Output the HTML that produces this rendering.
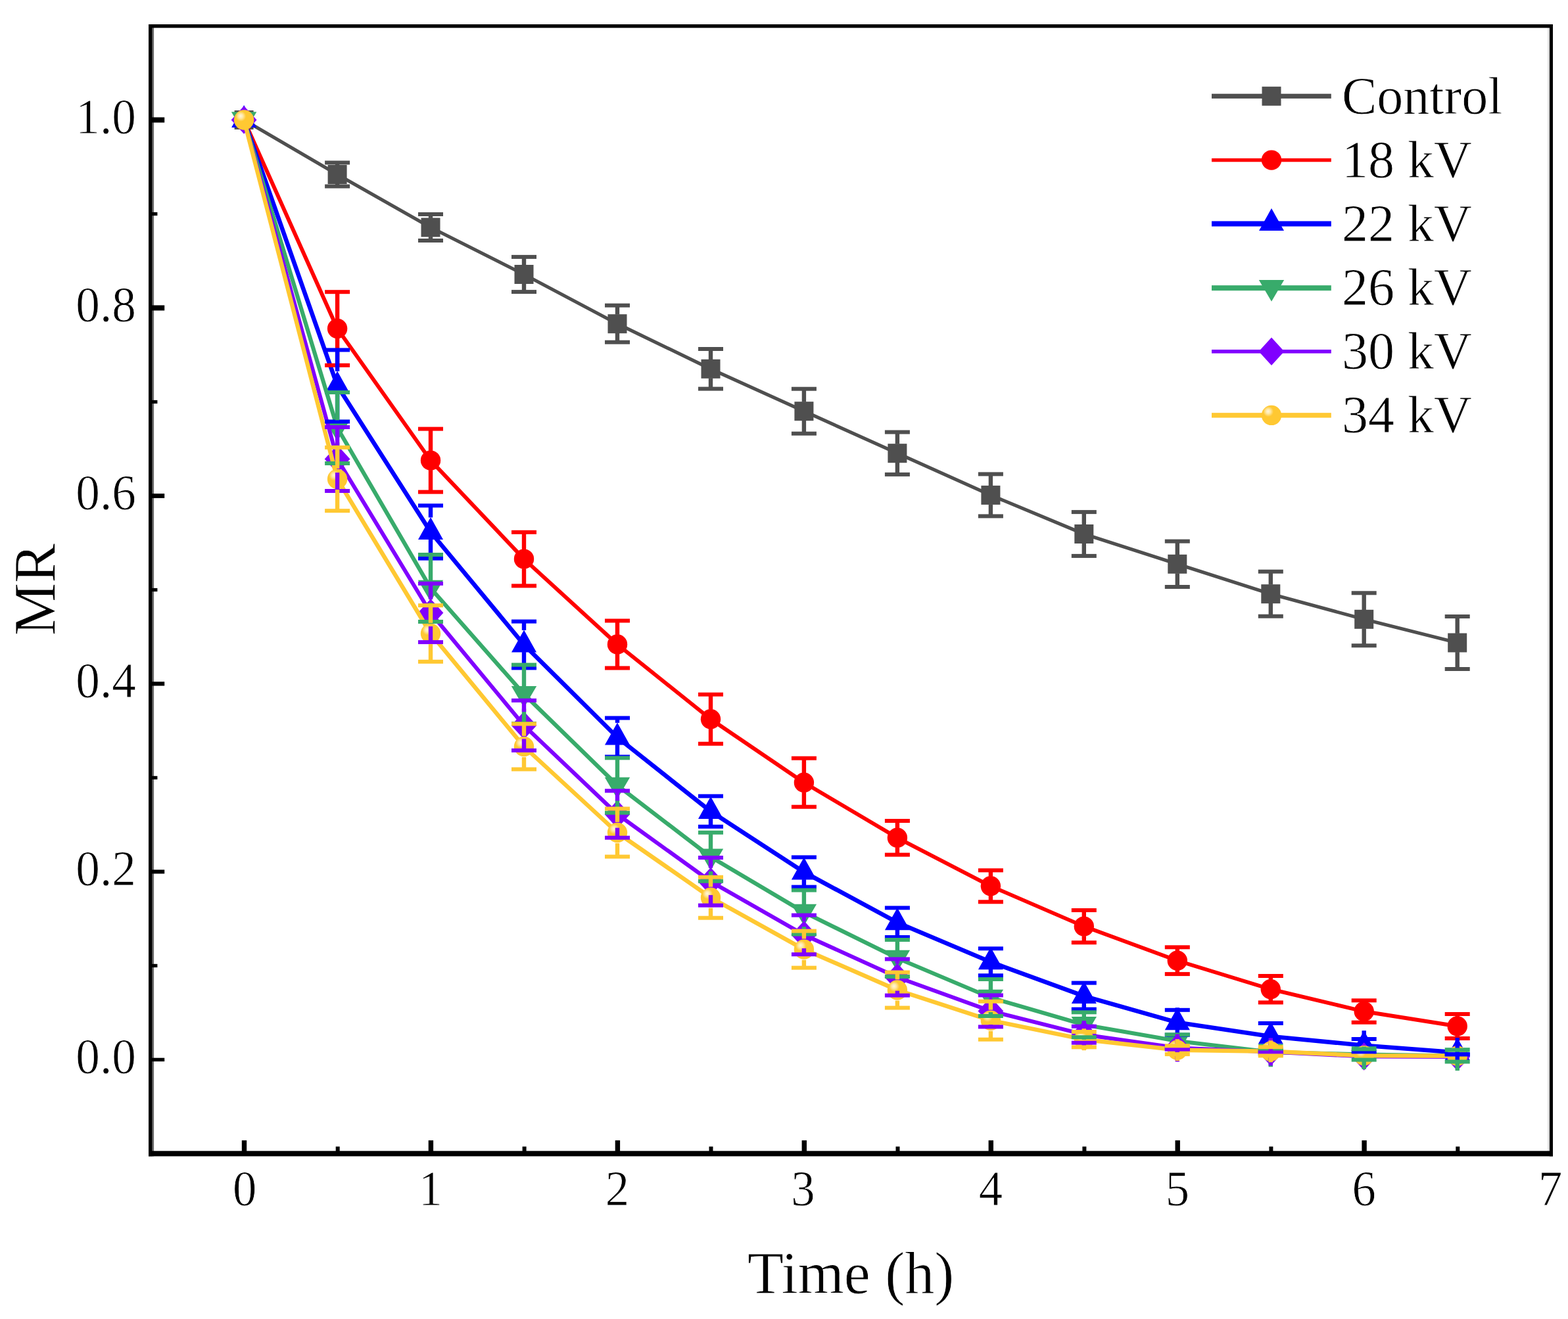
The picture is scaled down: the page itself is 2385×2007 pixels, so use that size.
<!DOCTYPE html>
<html lang="en">
<head>
<meta charset="utf-8">
<title>MR vs Time (h)</title>
<style>
html,body{margin:0;padding:0;background:#fff;}
body{width:2385px;height:2007px;overflow:hidden;}
svg{display:block;filter:blur(0.7px);}
text{stroke:#fff;stroke-width:0.8px;paint-order:fill stroke;font-family:"Liberation Serif","Times New Roman",Times,serif;fill:#000;}
.tk{font-size:75.5px;}
.lg{font-size:80px;}
.ax{font-size:90px;}
</style>
</head>
<body>
<svg width="2385" height="2007" viewBox="0 0 2385 2007">
<defs>
<radialGradient id="sph" cx="0.36" cy="0.34" r="0.62" fx="0.33" fy="0.30">
<stop offset="0" stop-color="#fff6dc"/>
<stop offset="0.18" stop-color="#ffe9a8"/>
<stop offset="0.42" stop-color="#ffc832"/>
<stop offset="1" stop-color="#ffc832"/>
</radialGradient>
</defs>
<rect x="0" y="0" width="2385" height="2007" fill="#fff"/>
<g>
<polyline points="371.1,182.5 513.1,265.5 655,346 797,417.5 939,492.7 1081,561.3 1222.9,625.7 1364.9,689.7 1506.9,753.4 1648.8,812.5 1790.8,858.3 1932.8,903.7 2074.7,942.3 2216.7,978" fill="none" stroke="#4f4f4f" stroke-width="5.2" stroke-linejoin="round"/>
<rect x="356.6" y="168" width="29" height="29" fill="#4f4f4f"/><rect x="498.6" y="251" width="29" height="29" fill="#4f4f4f"/><rect x="640.5" y="331.5" width="29" height="29" fill="#4f4f4f"/><rect x="782.5" y="403" width="29" height="29" fill="#4f4f4f"/><rect x="924.5" y="478.2" width="29" height="29" fill="#4f4f4f"/><rect x="1066.5" y="546.8" width="29" height="29" fill="#4f4f4f"/><rect x="1208.4" y="611.2" width="29" height="29" fill="#4f4f4f"/><rect x="1350.4" y="675.2" width="29" height="29" fill="#4f4f4f"/><rect x="1492.4" y="738.9" width="29" height="29" fill="#4f4f4f"/><rect x="1634.3" y="798" width="29" height="29" fill="#4f4f4f"/><rect x="1776.3" y="843.8" width="29" height="29" fill="#4f4f4f"/><rect x="1918.3" y="889.2" width="29" height="29" fill="#4f4f4f"/><rect x="2060.2" y="927.8" width="29" height="29" fill="#4f4f4f"/><rect x="2202.2" y="963.5" width="29" height="29" fill="#4f4f4f"/>
</g>
<g>
<polyline points="371.1,182.5 513.1,500 655,700.6 797,850.6 939,980.5 1081,1094.2 1222.9,1190.7 1364.9,1274.8 1506.9,1348.3 1648.8,1409.6 1790.8,1461.7 1932.8,1505.2 2074.7,1539 2216.7,1561.5" fill="none" stroke="#ff0000" stroke-width="5.9" stroke-linejoin="round"/>
<circle cx="371.1" cy="182.5" r="15.2" fill="#ff0000"/><circle cx="513.1" cy="500" r="15.2" fill="#ff0000"/><circle cx="655" cy="700.6" r="15.2" fill="#ff0000"/><circle cx="797" cy="850.6" r="15.2" fill="#ff0000"/><circle cx="939" cy="980.5" r="15.2" fill="#ff0000"/><circle cx="1081" cy="1094.2" r="15.2" fill="#ff0000"/><circle cx="1222.9" cy="1190.7" r="15.2" fill="#ff0000"/><circle cx="1364.9" cy="1274.8" r="15.2" fill="#ff0000"/><circle cx="1506.9" cy="1348.3" r="15.2" fill="#ff0000"/><circle cx="1648.8" cy="1409.6" r="15.2" fill="#ff0000"/><circle cx="1790.8" cy="1461.7" r="15.2" fill="#ff0000"/><circle cx="1932.8" cy="1505.2" r="15.2" fill="#ff0000"/><circle cx="2074.7" cy="1539" r="15.2" fill="#ff0000"/><circle cx="2216.7" cy="1561.5" r="15.2" fill="#ff0000"/>
</g>
<g>
<polyline points="371.1,182.5 513.1,587 655,809.5 797,981 939,1122 1081,1234.6 1222.9,1327 1364.9,1403.7 1506.9,1463.8 1648.8,1515.6 1790.8,1555.8 1932.8,1577 2074.7,1590.7 2216.7,1601.5" fill="none" stroke="#0000ff" stroke-width="6.6" stroke-linejoin="round"/>
<path d="M371.1 160L390.1 194H352.1Z" fill="#0000ff"/><path d="M513.1 564.5L532.1 598.5H494.1Z" fill="#0000ff"/><path d="M655 787L674 821H636Z" fill="#0000ff"/><path d="M797 958.5L816 992.5H778Z" fill="#0000ff"/><path d="M939 1099.5L958 1133.5H920Z" fill="#0000ff"/><path d="M1081 1212.1L1100 1246.1H1062Z" fill="#0000ff"/><path d="M1222.9 1304.5L1241.9 1338.5H1203.9Z" fill="#0000ff"/><path d="M1364.9 1381.2L1383.9 1415.2H1345.9Z" fill="#0000ff"/><path d="M1506.9 1441.3L1525.9 1475.3H1487.9Z" fill="#0000ff"/><path d="M1648.8 1493.1L1667.8 1527.1H1629.8Z" fill="#0000ff"/><path d="M1790.8 1533.3L1809.8 1567.3H1771.8Z" fill="#0000ff"/><path d="M1932.8 1554.5L1951.8 1588.5H1913.8Z" fill="#0000ff"/><path d="M2074.7 1568.2L2093.7 1602.2H2055.7Z" fill="#0000ff"/><path d="M2216.7 1579L2235.7 1613H2197.7Z" fill="#0000ff"/>
</g>
<g>
<polyline points="371.1,182.5 513.1,651 655,895 797,1056.3 939,1195 1081,1303.8 1222.9,1388 1364.9,1458 1506.9,1518 1648.8,1559.3 1790.8,1584 1932.8,1600.8 2074.7,1604.5 2216.7,1606.6" fill="none" stroke="#38ab6b" stroke-width="6.2" stroke-linejoin="round"/>
<path d="M371.1 203L390.3 170.2H351.9Z" fill="#38ab6b"/><path d="M513.1 671.5L532.3 638.7H493.9Z" fill="#38ab6b"/><path d="M655 915.5L674.2 882.7H635.8Z" fill="#38ab6b"/><path d="M797 1076.8L816.2 1044H777.8Z" fill="#38ab6b"/><path d="M939 1215.5L958.2 1182.7H919.8Z" fill="#38ab6b"/><path d="M1081 1324.3L1100.2 1291.5H1061.8Z" fill="#38ab6b"/><path d="M1222.9 1408.5L1242.1 1375.7H1203.7Z" fill="#38ab6b"/><path d="M1364.9 1478.5L1384.1 1445.7H1345.7Z" fill="#38ab6b"/><path d="M1506.9 1538.5L1526.1 1505.7H1487.7Z" fill="#38ab6b"/><path d="M1648.8 1579.8L1668 1547H1629.6Z" fill="#38ab6b"/><path d="M1790.8 1604.5L1810 1571.7H1771.6Z" fill="#38ab6b"/><path d="M1932.8 1621.3L1952 1588.5H1913.6Z" fill="#38ab6b"/><path d="M2074.7 1625L2093.9 1592.2H2055.5Z" fill="#38ab6b"/><path d="M2216.7 1627.1L2235.9 1594.3H2197.5Z" fill="#38ab6b"/>
</g>
<g>
<polyline points="371.1,182.5 513.1,698.5 655,932.5 797,1103.8 939,1239 1081,1341.3 1222.9,1422.4 1364.9,1487 1506.9,1538.4 1648.8,1574.2 1790.8,1594.5 1932.8,1600.5 2074.7,1607.5 2216.7,1608" fill="none" stroke="#8000ff" stroke-width="6.0" stroke-linejoin="round"/>
<path d="M371.1 161.2L390.5 182.5L371.1 203.8L351.7 182.5Z" fill="#8000ff"/><path d="M513.1 677.2L532.5 698.5L513.1 719.8L493.7 698.5Z" fill="#8000ff"/><path d="M655 911.2L674.4 932.5L655 953.8L635.6 932.5Z" fill="#8000ff"/><path d="M797 1082.5L816.4 1103.8L797 1125.1L777.6 1103.8Z" fill="#8000ff"/><path d="M939 1217.7L958.4 1239L939 1260.3L919.6 1239Z" fill="#8000ff"/><path d="M1081 1320L1100.4 1341.3L1081 1362.6L1061.5 1341.3Z" fill="#8000ff"/><path d="M1222.9 1401.1L1242.3 1422.4L1222.9 1443.7L1203.5 1422.4Z" fill="#8000ff"/><path d="M1364.9 1465.7L1384.3 1487L1364.9 1508.3L1345.5 1487Z" fill="#8000ff"/><path d="M1506.9 1517.1L1526.3 1538.4L1506.9 1559.7L1487.5 1538.4Z" fill="#8000ff"/><path d="M1648.8 1552.9L1668.2 1574.2L1648.8 1595.5L1629.4 1574.2Z" fill="#8000ff"/><path d="M1790.8 1573.2L1810.2 1594.5L1790.8 1615.8L1771.4 1594.5Z" fill="#8000ff"/><path d="M1932.8 1579.2L1952.2 1600.5L1932.8 1621.8L1913.4 1600.5Z" fill="#8000ff"/><path d="M2074.7 1586.2L2094.1 1607.5L2074.7 1628.8L2055.3 1607.5Z" fill="#8000ff"/><path d="M2216.7 1586.7L2236.1 1608L2216.7 1629.3L2197.3 1608Z" fill="#8000ff"/>
</g>
<g>
<polyline points="371.1,182.5 513.1,729 655,964 797,1136 939,1267 1081,1365.7 1222.9,1444.6 1364.9,1506.5 1506.9,1552.7 1648.8,1581.7 1790.8,1597.7 1932.8,1599.8 2074.7,1606.3 2216.7,1606.8" fill="none" stroke="#ffc832" stroke-width="6.4" stroke-linejoin="round"/>
<circle cx="371.1" cy="182.5" r="15.2" fill="url(#sph)"/><circle cx="513.1" cy="729" r="15.2" fill="url(#sph)"/><circle cx="655" cy="964" r="15.2" fill="url(#sph)"/><circle cx="797" cy="1136" r="15.2" fill="url(#sph)"/><circle cx="939" cy="1267" r="15.2" fill="url(#sph)"/><circle cx="1081" cy="1365.7" r="15.2" fill="url(#sph)"/><circle cx="1222.9" cy="1444.6" r="15.2" fill="url(#sph)"/><circle cx="1364.9" cy="1506.5" r="15.2" fill="url(#sph)"/><circle cx="1506.9" cy="1552.7" r="15.2" fill="url(#sph)"/><circle cx="1648.8" cy="1581.7" r="15.2" fill="url(#sph)"/><circle cx="1790.8" cy="1597.7" r="15.2" fill="url(#sph)"/><circle cx="1932.8" cy="1599.8" r="15.2" fill="url(#sph)"/><circle cx="2074.7" cy="1606.3" r="15.2" fill="url(#sph)"/><circle cx="2216.7" cy="1606.8" r="15.2" fill="url(#sph)"/>
</g>
<g><rect x="509.9" y="247.5" width="6.4" height="3.9" fill="#4f4f4f"/><rect x="509.9" y="279.6" width="6.4" height="3.9" fill="#4f4f4f"/><rect x="494.1" y="244.5" width="38" height="6" fill="#4f4f4f"/><rect x="494.1" y="280.5" width="38" height="6" fill="#4f4f4f"/><rect x="651.8" y="326" width="6.4" height="5.9" fill="#4f4f4f"/><rect x="651.8" y="360.1" width="6.4" height="5.9" fill="#4f4f4f"/><rect x="636" y="323" width="38" height="6" fill="#4f4f4f"/><rect x="636" y="363" width="38" height="6" fill="#4f4f4f"/><rect x="793.8" y="390.9" width="6.4" height="12.5" fill="#4f4f4f"/><rect x="793.8" y="431.6" width="6.4" height="12.5" fill="#4f4f4f"/><rect x="778" y="387.9" width="38" height="6" fill="#4f4f4f"/><rect x="778" y="441.1" width="38" height="6" fill="#4f4f4f"/><rect x="935.8" y="464.7" width="6.4" height="13.9" fill="#4f4f4f"/><rect x="935.8" y="506.8" width="6.4" height="13.9" fill="#4f4f4f"/><rect x="920" y="461.7" width="38" height="6" fill="#4f4f4f"/><rect x="920" y="517.7" width="38" height="6" fill="#4f4f4f"/><rect x="1077.8" y="531" width="6.4" height="16.2" fill="#4f4f4f"/><rect x="1077.8" y="575.4" width="6.4" height="16.2" fill="#4f4f4f"/><rect x="1062" y="528" width="38" height="6" fill="#4f4f4f"/><rect x="1062" y="588.6" width="38" height="6" fill="#4f4f4f"/><rect x="1219.7" y="591.7" width="6.4" height="19.9" fill="#4f4f4f"/><rect x="1219.7" y="639.8" width="6.4" height="19.9" fill="#4f4f4f"/><rect x="1203.9" y="588.7" width="38" height="6" fill="#4f4f4f"/><rect x="1203.9" y="656.7" width="38" height="6" fill="#4f4f4f"/><rect x="1361.7" y="657.5" width="6.4" height="18.1" fill="#4f4f4f"/><rect x="1361.7" y="703.8" width="6.4" height="18.1" fill="#4f4f4f"/><rect x="1345.9" y="654.5" width="38" height="6" fill="#4f4f4f"/><rect x="1345.9" y="718.9" width="38" height="6" fill="#4f4f4f"/><rect x="1503.7" y="721.4" width="6.4" height="17.9" fill="#4f4f4f"/><rect x="1503.7" y="767.5" width="6.4" height="17.9" fill="#4f4f4f"/><rect x="1487.9" y="718.4" width="38" height="6" fill="#4f4f4f"/><rect x="1487.9" y="782.4" width="38" height="6" fill="#4f4f4f"/><rect x="1645.6" y="779.1" width="6.4" height="19.3" fill="#4f4f4f"/><rect x="1645.6" y="826.6" width="6.4" height="19.3" fill="#4f4f4f"/><rect x="1629.8" y="776.1" width="38" height="6" fill="#4f4f4f"/><rect x="1629.8" y="842.9" width="38" height="6" fill="#4f4f4f"/><rect x="1787.6" y="823.6" width="6.4" height="20.6" fill="#4f4f4f"/><rect x="1787.6" y="872.4" width="6.4" height="20.6" fill="#4f4f4f"/><rect x="1771.8" y="820.6" width="38" height="6" fill="#4f4f4f"/><rect x="1771.8" y="890" width="38" height="6" fill="#4f4f4f"/><rect x="1929.6" y="869.7" width="6.4" height="19.9" fill="#4f4f4f"/><rect x="1929.6" y="917.8" width="6.4" height="19.9" fill="#4f4f4f"/><rect x="1913.8" y="866.7" width="38" height="6" fill="#4f4f4f"/><rect x="1913.8" y="934.7" width="38" height="6" fill="#4f4f4f"/><rect x="2071.5" y="902.3" width="6.4" height="25.9" fill="#4f4f4f"/><rect x="2071.5" y="956.4" width="6.4" height="25.9" fill="#4f4f4f"/><rect x="2055.7" y="899.3" width="38" height="6" fill="#4f4f4f"/><rect x="2055.7" y="979.3" width="38" height="6" fill="#4f4f4f"/><rect x="2213.5" y="938" width="6.4" height="25.9" fill="#4f4f4f"/><rect x="2213.5" y="992.1" width="6.4" height="25.9" fill="#4f4f4f"/><rect x="2197.7" y="935" width="38" height="6" fill="#4f4f4f"/><rect x="2197.7" y="1015" width="38" height="6" fill="#4f4f4f"/></g>
<g><rect x="509.9" y="444.2" width="6.4" height="41.2" fill="#ff0000"/><rect x="509.9" y="514.6" width="6.4" height="41.2" fill="#ff0000"/><rect x="494.1" y="441.2" width="38" height="6" fill="#ff0000"/><rect x="494.1" y="552.8" width="38" height="6" fill="#ff0000"/><rect x="651.8" y="652.6" width="6.4" height="33.4" fill="#ff0000"/><rect x="651.8" y="715.2" width="6.4" height="33.4" fill="#ff0000"/><rect x="636" y="649.6" width="38" height="6" fill="#ff0000"/><rect x="636" y="745.6" width="38" height="6" fill="#ff0000"/><rect x="793.8" y="809.8" width="6.4" height="26.2" fill="#ff0000"/><rect x="793.8" y="865.2" width="6.4" height="26.2" fill="#ff0000"/><rect x="778" y="806.8" width="38" height="6" fill="#ff0000"/><rect x="778" y="888.4" width="38" height="6" fill="#ff0000"/><rect x="935.8" y="944.5" width="6.4" height="21.4" fill="#ff0000"/><rect x="935.8" y="995.1" width="6.4" height="21.4" fill="#ff0000"/><rect x="920" y="941.5" width="38" height="6" fill="#ff0000"/><rect x="920" y="1013.5" width="38" height="6" fill="#ff0000"/><rect x="1077.8" y="1056.7" width="6.4" height="22.9" fill="#ff0000"/><rect x="1077.8" y="1108.8" width="6.4" height="22.9" fill="#ff0000"/><rect x="1062" y="1053.7" width="38" height="6" fill="#ff0000"/><rect x="1062" y="1128.7" width="38" height="6" fill="#ff0000"/><rect x="1219.7" y="1153.7" width="6.4" height="22.4" fill="#ff0000"/><rect x="1219.7" y="1205.3" width="6.4" height="22.4" fill="#ff0000"/><rect x="1203.9" y="1150.7" width="38" height="6" fill="#ff0000"/><rect x="1203.9" y="1224.7" width="38" height="6" fill="#ff0000"/><rect x="1361.7" y="1249" width="6.4" height="11.2" fill="#ff0000"/><rect x="1361.7" y="1289.4" width="6.4" height="11.2" fill="#ff0000"/><rect x="1345.9" y="1246" width="38" height="6" fill="#ff0000"/><rect x="1345.9" y="1297.6" width="38" height="6" fill="#ff0000"/><rect x="1503.7" y="1324.3" width="6.4" height="9.4" fill="#ff0000"/><rect x="1503.7" y="1362.9" width="6.4" height="9.4" fill="#ff0000"/><rect x="1487.9" y="1321.3" width="38" height="6" fill="#ff0000"/><rect x="1487.9" y="1369.3" width="38" height="6" fill="#ff0000"/><rect x="1645.6" y="1385" width="6.4" height="10" fill="#ff0000"/><rect x="1645.6" y="1424.2" width="6.4" height="10" fill="#ff0000"/><rect x="1629.8" y="1382" width="38" height="6" fill="#ff0000"/><rect x="1629.8" y="1431.2" width="38" height="6" fill="#ff0000"/><rect x="1787.6" y="1441.3" width="6.4" height="5.8" fill="#ff0000"/><rect x="1787.6" y="1476.3" width="6.4" height="5.8" fill="#ff0000"/><rect x="1771.8" y="1438.3" width="38" height="6" fill="#ff0000"/><rect x="1771.8" y="1479.1" width="38" height="6" fill="#ff0000"/><rect x="1929.6" y="1485" width="6.4" height="5.6" fill="#ff0000"/><rect x="1929.6" y="1519.8" width="6.4" height="5.6" fill="#ff0000"/><rect x="1913.8" y="1482" width="38" height="6" fill="#ff0000"/><rect x="1913.8" y="1522.4" width="38" height="6" fill="#ff0000"/><rect x="2071.5" y="1522.3" width="6.4" height="2.1" fill="#ff0000"/><rect x="2071.5" y="1553.6" width="6.4" height="2.1" fill="#ff0000"/><rect x="2055.7" y="1519.3" width="38" height="6" fill="#ff0000"/><rect x="2055.7" y="1552.7" width="38" height="6" fill="#ff0000"/><rect x="2213.5" y="1543" width="6.4" height="3.9" fill="#ff0000"/><rect x="2213.5" y="1576.1" width="6.4" height="3.9" fill="#ff0000"/><rect x="2197.7" y="1540" width="38" height="6" fill="#ff0000"/><rect x="2197.7" y="1577" width="38" height="6" fill="#ff0000"/></g>
<g><rect x="509.9" y="532.5" width="6.4" height="32.4" fill="#0000ff"/><rect x="509.9" y="598.1" width="6.4" height="43.4" fill="#0000ff"/><rect x="494.1" y="529.5" width="38" height="6" fill="#0000ff"/><rect x="494.1" y="638.5" width="38" height="6" fill="#0000ff"/><rect x="651.8" y="769.3" width="6.4" height="18.1" fill="#0000ff"/><rect x="651.8" y="820.6" width="6.4" height="29.1" fill="#0000ff"/><rect x="636" y="766.3" width="38" height="6" fill="#0000ff"/><rect x="636" y="846.7" width="38" height="6" fill="#0000ff"/><rect x="793.8" y="945.6" width="6.4" height="13.3" fill="#0000ff"/><rect x="793.8" y="992.1" width="6.4" height="24.3" fill="#0000ff"/><rect x="778" y="942.6" width="38" height="6" fill="#0000ff"/><rect x="778" y="1013.4" width="38" height="6" fill="#0000ff"/><rect x="935.8" y="1092.5" width="6.4" height="7.4" fill="#0000ff"/><rect x="935.8" y="1133.1" width="6.4" height="18.4" fill="#0000ff"/><rect x="920" y="1089.5" width="38" height="6" fill="#0000ff"/><rect x="920" y="1148.5" width="38" height="6" fill="#0000ff"/><rect x="1077.8" y="1211.4" width="6.4" height="1.1" fill="#0000ff"/><rect x="1077.8" y="1245.7" width="6.4" height="12.1" fill="#0000ff"/><rect x="1062" y="1208.4" width="38" height="6" fill="#0000ff"/><rect x="1062" y="1254.8" width="38" height="6" fill="#0000ff"/><rect x="1219.7" y="1338.1" width="6.4" height="11.5" fill="#0000ff"/><rect x="1203.9" y="1301.4" width="38" height="6" fill="#0000ff"/><rect x="1203.9" y="1346.6" width="38" height="6" fill="#0000ff"/><rect x="1361.7" y="1414.8" width="6.4" height="11.2" fill="#0000ff"/><rect x="1345.9" y="1378.4" width="38" height="6" fill="#0000ff"/><rect x="1345.9" y="1423" width="38" height="6" fill="#0000ff"/><rect x="1503.7" y="1441.3" width="6.4" height="2.4" fill="#0000ff"/><rect x="1503.7" y="1474.9" width="6.4" height="9.4" fill="#0000ff"/><rect x="1487.9" y="1440.3" width="38" height="6" fill="#0000ff"/><rect x="1487.9" y="1481.3" width="38" height="6" fill="#0000ff"/><rect x="1645.6" y="1493.1" width="6.4" height="2.9" fill="#0000ff"/><rect x="1645.6" y="1526.7" width="6.4" height="8.9" fill="#0000ff"/><rect x="1629.8" y="1492.6" width="38" height="6" fill="#0000ff"/><rect x="1629.8" y="1532.6" width="38" height="6" fill="#0000ff"/><rect x="1787.6" y="1533.3" width="6.4" height="3.9" fill="#0000ff"/><rect x="1787.6" y="1566.9" width="6.4" height="7.9" fill="#0000ff"/><rect x="1771.8" y="1533.8" width="38" height="6" fill="#0000ff"/><rect x="1771.8" y="1571.8" width="38" height="6" fill="#0000ff"/><rect x="1929.6" y="1554.5" width="6.4" height="2.9" fill="#0000ff"/><rect x="1929.6" y="1588.1" width="6.4" height="8.9" fill="#0000ff"/><rect x="1913.8" y="1554" width="38" height="6" fill="#0000ff"/><rect x="1913.8" y="1594" width="38" height="6" fill="#0000ff"/><rect x="2071.5" y="1568.2" width="6.4" height="13.2" fill="#0000ff"/><rect x="2071.5" y="1600" width="6.4" height="2.2" fill="#0000ff"/><rect x="2055.7" y="1578" width="38" height="6" fill="#0000ff"/><rect x="2055.7" y="1597.4" width="38" height="6" fill="#0000ff"/><rect x="2213.5" y="1579" width="6.4" height="25.7" fill="#0000ff"/><rect x="2213.5" y="1603.9" width="6.4" height="9.1" fill="#0000ff"/><rect x="2197.7" y="1601.3" width="38" height="6" fill="#0000ff"/><rect x="2197.7" y="1601.3" width="38" height="6" fill="#0000ff"/></g>
<g><rect x="509.9" y="597" width="6.4" height="42.4" fill="#38ab6b"/><rect x="509.9" y="673.1" width="6.4" height="31.9" fill="#38ab6b"/><rect x="494.1" y="594" width="38" height="6" fill="#38ab6b"/><rect x="494.1" y="702" width="38" height="6" fill="#38ab6b"/><rect x="651.8" y="844" width="6.4" height="39.4" fill="#38ab6b"/><rect x="651.8" y="917.1" width="6.4" height="28.9" fill="#38ab6b"/><rect x="636" y="841" width="38" height="6" fill="#38ab6b"/><rect x="636" y="943" width="38" height="6" fill="#38ab6b"/><rect x="793.8" y="1011.6" width="6.4" height="33.1" fill="#38ab6b"/><rect x="793.8" y="1078.4" width="6.4" height="22.6" fill="#38ab6b"/><rect x="778" y="1008.6" width="38" height="6" fill="#38ab6b"/><rect x="778" y="1098" width="38" height="6" fill="#38ab6b"/><rect x="935.8" y="1153.3" width="6.4" height="30.1" fill="#38ab6b"/><rect x="935.8" y="1217.1" width="6.4" height="19.6" fill="#38ab6b"/><rect x="920" y="1150.3" width="38" height="6" fill="#38ab6b"/><rect x="920" y="1233.7" width="38" height="6" fill="#38ab6b"/><rect x="1077.8" y="1266.8" width="6.4" height="25.4" fill="#38ab6b"/><rect x="1077.8" y="1325.9" width="6.4" height="14.9" fill="#38ab6b"/><rect x="1062" y="1263.8" width="38" height="6" fill="#38ab6b"/><rect x="1062" y="1337.8" width="38" height="6" fill="#38ab6b"/><rect x="1219.7" y="1354.5" width="6.4" height="21.9" fill="#38ab6b"/><rect x="1219.7" y="1410.1" width="6.4" height="11.4" fill="#38ab6b"/><rect x="1203.9" y="1351.5" width="38" height="6" fill="#38ab6b"/><rect x="1203.9" y="1418.5" width="38" height="6" fill="#38ab6b"/><rect x="1361.7" y="1430" width="6.4" height="16.4" fill="#38ab6b"/><rect x="1361.7" y="1480.1" width="6.4" height="5.9" fill="#38ab6b"/><rect x="1345.9" y="1427" width="38" height="6" fill="#38ab6b"/><rect x="1345.9" y="1483" width="38" height="6" fill="#38ab6b"/><rect x="1503.7" y="1490" width="6.4" height="16.4" fill="#38ab6b"/><rect x="1503.7" y="1540.1" width="6.4" height="5.9" fill="#38ab6b"/><rect x="1487.9" y="1487" width="38" height="6" fill="#38ab6b"/><rect x="1487.9" y="1543" width="38" height="6" fill="#38ab6b"/><rect x="1645.6" y="1540.3" width="6.4" height="7.4" fill="#38ab6b"/><rect x="1645.6" y="1577.9" width="6.4" height="3.9" fill="#38ab6b"/><rect x="1629.8" y="1537.3" width="38" height="6" fill="#38ab6b"/><rect x="1629.8" y="1575.3" width="38" height="6" fill="#38ab6b"/><rect x="1787.6" y="1572" width="6.4" height="2.7" fill="#38ab6b"/><rect x="1787.6" y="1593.3" width="6.4" height="13.2" fill="#38ab6b"/><rect x="1771.8" y="1571.3" width="38" height="6" fill="#38ab6b"/><rect x="1771.8" y="1590.7" width="38" height="6" fill="#38ab6b"/><rect x="1929.6" y="1588.8" width="6.4" height="9.4" fill="#38ab6b"/><rect x="1929.6" y="1603.4" width="6.4" height="19.9" fill="#38ab6b"/><rect x="1913.8" y="1594.8" width="38" height="6" fill="#38ab6b"/><rect x="1913.8" y="1600.8" width="38" height="6" fill="#38ab6b"/><rect x="2071.5" y="1592.5" width="6.4" height="4.3" fill="#38ab6b"/><rect x="2071.5" y="1612.2" width="6.4" height="14.8" fill="#38ab6b"/><rect x="2055.7" y="1593.4" width="38" height="6" fill="#38ab6b"/><rect x="2055.7" y="1609.6" width="38" height="6" fill="#38ab6b"/><rect x="2213.5" y="1594.6" width="6.4" height="3.5" fill="#38ab6b"/><rect x="2213.5" y="1615.1" width="6.4" height="14" fill="#38ab6b"/><rect x="2197.7" y="1594.7" width="38" height="6" fill="#38ab6b"/><rect x="2197.7" y="1612.5" width="38" height="6" fill="#38ab6b"/></g>
<g><rect x="509.9" y="650" width="6.4" height="27.9" fill="#8000ff"/><rect x="509.9" y="719.1" width="6.4" height="27.9" fill="#8000ff"/><rect x="494.1" y="647" width="38" height="6" fill="#8000ff"/><rect x="494.1" y="744" width="38" height="6" fill="#8000ff"/><rect x="651.8" y="887.9" width="6.4" height="24" fill="#8000ff"/><rect x="651.8" y="953.1" width="6.4" height="24" fill="#8000ff"/><rect x="636" y="884.9" width="38" height="6" fill="#8000ff"/><rect x="636" y="974.1" width="38" height="6" fill="#8000ff"/><rect x="793.8" y="1065.8" width="6.4" height="17.4" fill="#8000ff"/><rect x="793.8" y="1124.4" width="6.4" height="17.4" fill="#8000ff"/><rect x="778" y="1062.8" width="38" height="6" fill="#8000ff"/><rect x="778" y="1138.8" width="38" height="6" fill="#8000ff"/><rect x="935.8" y="1203.3" width="6.4" height="15.1" fill="#8000ff"/><rect x="935.8" y="1259.6" width="6.4" height="15.1" fill="#8000ff"/><rect x="920" y="1200.3" width="38" height="6" fill="#8000ff"/><rect x="920" y="1271.7" width="38" height="6" fill="#8000ff"/><rect x="1077.8" y="1305" width="6.4" height="15.7" fill="#8000ff"/><rect x="1077.8" y="1361.9" width="6.4" height="15.7" fill="#8000ff"/><rect x="1062" y="1302" width="38" height="6" fill="#8000ff"/><rect x="1062" y="1374.6" width="38" height="6" fill="#8000ff"/><rect x="1219.7" y="1392.6" width="6.4" height="9.2" fill="#8000ff"/><rect x="1219.7" y="1443" width="6.4" height="9.2" fill="#8000ff"/><rect x="1203.9" y="1389.6" width="38" height="6" fill="#8000ff"/><rect x="1203.9" y="1449.2" width="38" height="6" fill="#8000ff"/><rect x="1361.7" y="1459.4" width="6.4" height="7" fill="#8000ff"/><rect x="1361.7" y="1507.6" width="6.4" height="7" fill="#8000ff"/><rect x="1345.9" y="1456.4" width="38" height="6" fill="#8000ff"/><rect x="1345.9" y="1511.6" width="38" height="6" fill="#8000ff"/><rect x="1503.7" y="1514.4" width="6.4" height="3.4" fill="#8000ff"/><rect x="1503.7" y="1559" width="6.4" height="3.4" fill="#8000ff"/><rect x="1487.9" y="1511.4" width="38" height="6" fill="#8000ff"/><rect x="1487.9" y="1559.4" width="38" height="6" fill="#8000ff"/><rect x="1645.6" y="1553.2" width="6.4" height="8.9" fill="#8000ff"/><rect x="1645.6" y="1586.3" width="6.4" height="8.9" fill="#8000ff"/><rect x="1629.8" y="1558.7" width="38" height="6" fill="#8000ff"/><rect x="1629.8" y="1583.7" width="38" height="6" fill="#8000ff"/><rect x="1787.6" y="1573.5" width="6.4" height="23.3" fill="#8000ff"/><rect x="1787.6" y="1596" width="6.4" height="19.5" fill="#8000ff"/><rect x="1771.8" y="1593.4" width="38" height="6" fill="#8000ff"/><rect x="1771.8" y="1593.4" width="38" height="6" fill="#8000ff"/><rect x="1929.6" y="1579.5" width="6.4" height="22.6" fill="#8000ff"/><rect x="1929.6" y="1601.3" width="6.4" height="20.2" fill="#8000ff"/><rect x="1913.8" y="1598.7" width="38" height="6" fill="#8000ff"/><rect x="1913.8" y="1598.7" width="38" height="6" fill="#8000ff"/></g>
<g><rect x="509.9" y="680.8" width="6.4" height="32.1" fill="#ffc832"/><rect x="509.9" y="745.1" width="6.4" height="32.1" fill="#ffc832"/><rect x="494.1" y="677.8" width="38" height="6" fill="#ffc832"/><rect x="494.1" y="774.2" width="38" height="6" fill="#ffc832"/><rect x="651.8" y="921.2" width="6.4" height="26.7" fill="#ffc832"/><rect x="651.8" y="980.1" width="6.4" height="26.7" fill="#ffc832"/><rect x="636" y="918.2" width="38" height="6" fill="#ffc832"/><rect x="636" y="1003.8" width="38" height="6" fill="#ffc832"/><rect x="793.8" y="1101.5" width="6.4" height="18.4" fill="#ffc832"/><rect x="793.8" y="1152.1" width="6.4" height="18.4" fill="#ffc832"/><rect x="778" y="1098.5" width="38" height="6" fill="#ffc832"/><rect x="778" y="1167.5" width="38" height="6" fill="#ffc832"/><rect x="935.8" y="1230.5" width="6.4" height="20.4" fill="#ffc832"/><rect x="935.8" y="1283.1" width="6.4" height="20.4" fill="#ffc832"/><rect x="920" y="1227.5" width="38" height="6" fill="#ffc832"/><rect x="920" y="1300.5" width="38" height="6" fill="#ffc832"/><rect x="1077.8" y="1334.7" width="6.4" height="14.9" fill="#ffc832"/><rect x="1077.8" y="1381.8" width="6.4" height="14.9" fill="#ffc832"/><rect x="1062" y="1331.7" width="38" height="6" fill="#ffc832"/><rect x="1062" y="1393.7" width="38" height="6" fill="#ffc832"/><rect x="1219.7" y="1416.6" width="6.4" height="11.9" fill="#ffc832"/><rect x="1219.7" y="1460.7" width="6.4" height="11.9" fill="#ffc832"/><rect x="1203.9" y="1413.6" width="38" height="6" fill="#ffc832"/><rect x="1203.9" y="1469.6" width="38" height="6" fill="#ffc832"/><rect x="1361.7" y="1479.5" width="6.4" height="10.9" fill="#ffc832"/><rect x="1361.7" y="1522.6" width="6.4" height="10.9" fill="#ffc832"/><rect x="1345.9" y="1476.5" width="38" height="6" fill="#ffc832"/><rect x="1345.9" y="1530.5" width="38" height="6" fill="#ffc832"/><rect x="1503.7" y="1523.7" width="6.4" height="12.9" fill="#ffc832"/><rect x="1503.7" y="1568.8" width="6.4" height="12.9" fill="#ffc832"/><rect x="1487.9" y="1520.7" width="38" height="6" fill="#ffc832"/><rect x="1487.9" y="1578.7" width="38" height="6" fill="#ffc832"/><rect x="1645.6" y="1565.2" width="6.4" height="5.2" fill="#ffc832"/><rect x="1645.6" y="1593" width="6.4" height="5.2" fill="#ffc832"/><rect x="1629.8" y="1567" width="38" height="6" fill="#ffc832"/><rect x="1629.8" y="1590.4" width="38" height="6" fill="#ffc832"/><rect x="1787.6" y="1581.2" width="6.4" height="10.5" fill="#ffc832"/><rect x="1787.6" y="1603.7" width="6.4" height="10.5" fill="#ffc832"/><rect x="1771.8" y="1588.3" width="38" height="6" fill="#ffc832"/><rect x="1771.8" y="1601.1" width="38" height="6" fill="#ffc832"/><rect x="1929.6" y="1583.3" width="6.4" height="10.3" fill="#ffc832"/><rect x="1929.6" y="1606" width="6.4" height="10.3" fill="#ffc832"/><rect x="1913.8" y="1590.2" width="38" height="6" fill="#ffc832"/><rect x="1913.8" y="1603.4" width="38" height="6" fill="#ffc832"/></g>
<g fill="#000">
<rect x="231" y="37.0" width="3.1" height="1722.4" fill="#6a6a6a"/><rect x="2354.3" y="37.0" width="3" height="1722.4" fill="#dcdcdc"/><rect x="230" y="1609.7" width="20.2" height="5.4"/><rect x="230" y="1466.8" width="9.4" height="5.2"/><rect x="230" y="1323.4" width="20.2" height="6.0"/><rect x="230" y="1180.8" width="9.4" height="5.2"/><rect x="230" y="1037.3" width="20.2" height="6.2"/><rect x="230" y="894.9" width="9.4" height="5.2"/><rect x="230" y="751.1" width="20.2" height="6.8"/><rect x="230" y="608.9" width="9.4" height="5.2"/><rect x="230" y="464.5" width="20.2" height="8.0"/><rect x="230" y="322.9" width="9.4" height="5.2"/><rect x="230" y="178.5" width="20.2" height="8.0"/><rect x="367.8" y="1735.2" width="7.4" height="17"/><rect x="510.7" y="1744.6" width="6" height="8"/><rect x="651.7" y="1735.2" width="7.4" height="17"/><rect x="794.6" y="1744.6" width="6" height="8"/><rect x="935.7" y="1735.2" width="7.4" height="17"/><rect x="1078.5" y="1744.6" width="6" height="8"/><rect x="1219.6" y="1735.2" width="7.4" height="17"/><rect x="1362.5" y="1744.6" width="6" height="8"/><rect x="1503.6" y="1735.2" width="7.4" height="17"/><rect x="1646.4" y="1744.6" width="6" height="8"/><rect x="1787.5" y="1735.2" width="7.4" height="17"/><rect x="1930.4" y="1744.6" width="6" height="8"/><rect x="2071.4" y="1735.2" width="7.4" height="17"/><rect x="2214.3" y="1744.6" width="6" height="8"/>
<rect x="226.0" y="37.0" width="5.3" height="1722.4"/><rect x="226.0" y="37.0" width="2136" height="5.4"/><rect x="2357" y="37.0" width="5" height="1722.4"/><rect x="226.0" y="1751.3" width="2136" height="8.1"/>
</g>
<g class="tk">
<text transform="translate(206.8 1633.3) scale(0.97 1)" text-anchor="end">0.0</text><text transform="translate(206.8 1347.3) scale(0.97 1)" text-anchor="end">0.2</text><text transform="translate(206.8 1061.3) scale(0.97 1)" text-anchor="end">0.4</text><text transform="translate(206.8 775.4) scale(0.97 1)" text-anchor="end">0.6</text><text transform="translate(206.8 489.4) scale(0.97 1)" text-anchor="end">0.8</text><text transform="translate(206.8 203.4) scale(0.97 1)" text-anchor="end">1.0</text>
<text transform="translate(372.1 1834.4) scale(0.962 1)" text-anchor="middle">0</text><text transform="translate(655 1834.4) scale(0.962 1)" text-anchor="middle">1</text><text transform="translate(939 1834.4) scale(0.962 1)" text-anchor="middle">2</text><text transform="translate(1221.4 1834.4) scale(0.962 1)" text-anchor="middle">3</text><text transform="translate(1506.9 1834.4) scale(0.962 1)" text-anchor="middle">4</text><text transform="translate(1790.8 1834.4) scale(0.962 1)" text-anchor="middle">5</text><text transform="translate(2074.7 1834.4) scale(0.962 1)" text-anchor="middle">6</text><text transform="translate(2358.2 1834.4) scale(0.962 1)" text-anchor="middle">7</text>
</g>
<text class="ax" x="1294" y="1967.5" text-anchor="middle">Time (h)</text>
<text class="ax" transform="translate(83.6 897) rotate(-90)" text-anchor="middle">MR</text>
<g>
<rect x="1843" y="142.7" width="181.8" height="7.2" fill="#4f4f4f"/><rect x="1919.5" y="131.8" width="29" height="29" fill="#4f4f4f"/><text class="lg" transform="translate(2041 172.6) scale(1 1)">Control</text>
<rect x="1843" y="240.9" width="181.8" height="5.4" fill="#ff0000"/><circle cx="1934" cy="243.6" r="15.2" fill="#ff0000"/><text class="lg" transform="translate(2041 269.6) scale(1 1)">18 kV</text>
<rect x="1843" y="336.5" width="181.8" height="8.0" fill="#0000ff"/><path d="M1934 317L1953 351H1915Z" fill="#0000ff"/><text class="lg" transform="translate(2041 366.6) scale(1 1)">22 kV</text>
<rect x="1843" y="434.2" width="181.8" height="8.0" fill="#38ab6b"/><path d="M1934 458.7L1953.2 425.9H1914.8Z" fill="#38ab6b"/><text class="lg" transform="translate(2041 463.6) scale(1 1)">26 kV</text>
<rect x="1843" y="532" width="181.8" height="5.6" fill="#8000ff"/><path d="M1934 513.5L1953.4 534.8L1934 556.1L1914.6 534.8Z" fill="#8000ff"/><text class="lg" transform="translate(2041 560.6) scale(1 1)">30 kV</text>
<rect x="1843" y="628.2" width="181.8" height="7.4" fill="#ffc832"/><circle cx="1934" cy="631.9" r="15.2" fill="url(#sph)"/><text class="lg" transform="translate(2041 657.6) scale(1 1)">34 kV</text>
</g>
</svg>
</body>
</html>
